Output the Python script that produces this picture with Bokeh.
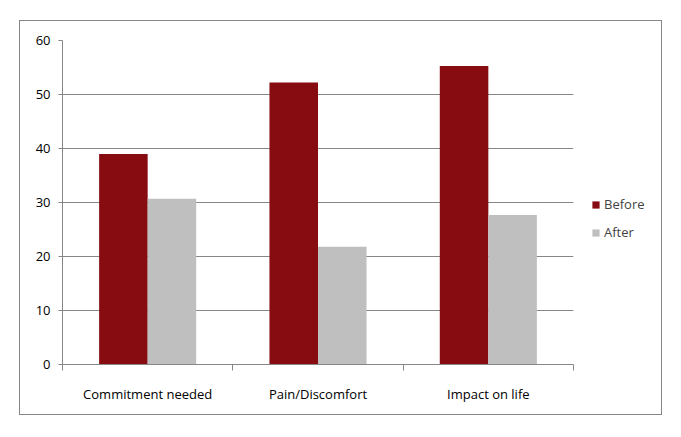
from bokeh.plotting import figure
from bokeh.models import ColumnDataSource, FixedTicker, Legend, LegendItem
from bokeh.embed import file_html
from bokeh.resources import INLINE

categories = ["Commitment needed", "Pain/Discomfort", "Impact on life"]
before = [39.0, 52.2, 55.3]
after = [30.7, 21.8, 27.7]
series_names = ["Before", "After"]
y_ticks = [0, 10, 20, 30, 40, 50, 60]

FONT = "Open Sans"
GRID = "#868686"

p = figure(width=641, height=393, frame_width=511, frame_height=324,
           output_backend="svg", toolbar_location=None,
           x_range=(0, len(categories)), y_range=(0, 60),
           min_border_left=42, min_border_right=88, min_border_top=19, min_border_bottom=50)
p.margin = (21, 20, 0, 20)
p.styles = {"outline": "1.5px solid #868686", "width": "641px", "max-width": "641px",
            "overflow": "hidden"}

centers = [i + 0.5 for i in range(len(categories))]
w = 0.285
src = ColumnDataSource(dict(
    xb=[c - w / 2 for c in centers], xa=[c + w / 2 for c in centers],
    before=before, after=after))

rb = p.vbar(x="xb", top="before", width=w, source=src, color="#870C11", line_color=None)
ra = p.vbar(x="xa", top="after", width=w, source=src, color="#C0BFC0", line_color=None)

p.outline_line_color = None
p.background_fill_color = "white"
p.border_fill_color = "white"

p.xgrid.grid_line_color = None
p.ygrid.grid_line_color = GRID
p.ygrid.grid_line_width = 1
p.yaxis.ticker = FixedTicker(ticks=y_ticks)
p.yaxis.axis_line_color = GRID
p.yaxis.major_tick_line_color = GRID
p.yaxis.major_tick_in = 0
p.yaxis.major_tick_out = 4
p.yaxis.minor_tick_line_color = None
p.yaxis.major_label_standoff = 8
p.yaxis.major_label_text_font = FONT
p.yaxis.major_label_text_font_size = "13px"
p.yaxis.major_label_text_color = "black"

p.xaxis.ticker = FixedTicker(ticks=centers, minor_ticks=list(range(len(categories) + 1)))
p.xaxis.major_label_overrides = {c: name for c, name in zip(centers, categories)}
p.xaxis.axis_line_color = GRID
p.xaxis.major_tick_line_color = None
p.xaxis.minor_tick_line_color = GRID
p.xaxis.minor_tick_in = 0
p.xaxis.minor_tick_out = 6
p.xaxis.major_label_standoff = 14
p.xaxis.major_label_text_font = FONT
p.xaxis.major_label_text_font_size = "13px"
p.xaxis.major_label_text_color = "black"

legend = Legend(items=[LegendItem(label=series_names[0], renderers=[rb]),
                       LegendItem(label=series_names[1], renderers=[ra])],
                location=(18, 123), margin=0, border_line_color=None, background_fill_alpha=0,
                label_text_font=FONT, label_text_font_size="13px",
                glyph_width=9, glyph_height=9, spacing=10, label_standoff=4, padding=4)
p.add_layout(legend, "right")

open("out.html", "w").write(file_html(p, INLINE))
